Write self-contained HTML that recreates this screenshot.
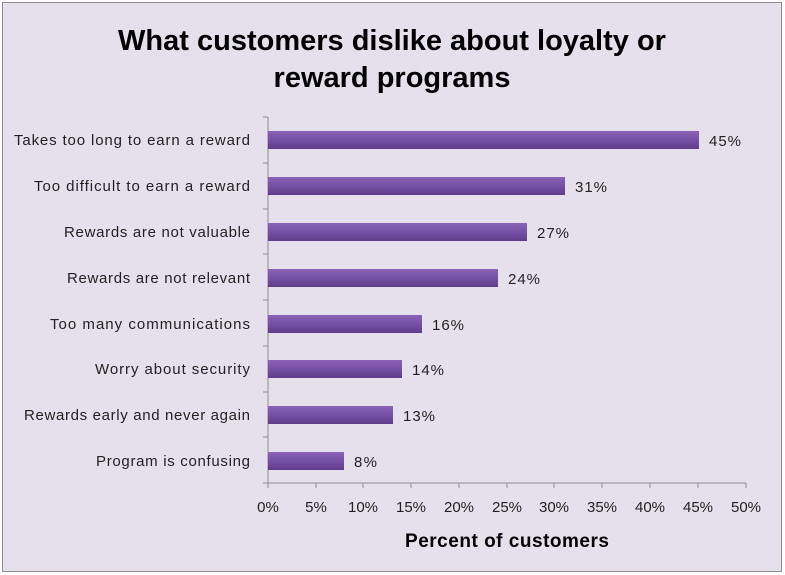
<!DOCTYPE html>
<html><head><style>
html,body{margin:0;padding:0;background:#fff;}
svg{display:block;font-family:"Liberation Sans",sans-serif;}
</style></head><body>
<svg width="785" height="575" viewBox="0 0 785 575" xmlns="http://www.w3.org/2000/svg">
<defs>
<linearGradient id="g" x1="0" y1="0" x2="0" y2="1">
<stop offset="0" stop-color="#8a62b8"/><stop offset="0.5" stop-color="#7650a4"/><stop offset="1" stop-color="#5f3c8a"/>
</linearGradient>
</defs>
<rect x="2.5" y="2.5" width="779" height="569" fill="#e6e0ec" stroke="#8c8c8c" stroke-width="1"/>
<text x="392" y="50" text-anchor="middle" font-size="29" font-weight="bold" fill="#000">What customers dislike about loyalty or</text>
<text x="392" y="87" text-anchor="middle" font-size="29" font-weight="bold" fill="#000">reward programs</text>
<g stroke="#8c8c8c" stroke-width="1">
<line x1="268" y1="117" x2="268" y2="483"/>
<line x1="268" y1="483" x2="746" y2="483"/>
<line x1="263" y1="117" x2="268" y2="117"/>
<line x1="263" y1="163" x2="268" y2="163"/>
<line x1="263" y1="209" x2="268" y2="209"/>
<line x1="263" y1="254" x2="268" y2="254"/>
<line x1="263" y1="300" x2="268" y2="300"/>
<line x1="263" y1="346" x2="268" y2="346"/>
<line x1="263" y1="392" x2="268" y2="392"/>
<line x1="263" y1="437" x2="268" y2="437"/>
<line x1="263" y1="483" x2="268" y2="483"/>
<line x1="268" y1="483" x2="268" y2="488"/>
<line x1="316" y1="483" x2="316" y2="488"/>
<line x1="363" y1="483" x2="363" y2="488"/>
<line x1="411" y1="483" x2="411" y2="488"/>
<line x1="459" y1="483" x2="459" y2="488"/>
<line x1="507" y1="483" x2="507" y2="488"/>
<line x1="554" y1="483" x2="554" y2="488"/>
<line x1="602" y1="483" x2="602" y2="488"/>
<line x1="650" y1="483" x2="650" y2="488"/>
<line x1="698" y1="483" x2="698" y2="488"/>
<line x1="746" y1="483" x2="746" y2="488"/>
</g>
<g fill="url(#g)">
<rect x="268" y="131" width="431" height="18"/>
<rect x="268" y="177" width="297" height="18"/>
<rect x="268" y="223" width="259" height="18"/>
<rect x="268" y="269" width="230" height="18"/>
<rect x="268" y="315" width="154" height="18"/>
<rect x="268" y="360" width="134" height="18"/>
<rect x="268" y="406" width="125" height="18"/>
<rect x="268" y="452" width="76" height="18"/>
</g>
<g font-size="15" fill="#222">
<text x="709" y="146" textLength="32">45%</text>
<text x="575" y="192" textLength="32">31%</text>
<text x="537" y="238" textLength="32">27%</text>
<text x="508" y="284" textLength="32">24%</text>
<text x="432" y="330" textLength="32">16%</text>
<text x="412" y="375" textLength="32">14%</text>
<text x="403" y="421" textLength="32">13%</text>
<text x="354" y="467" textLength="23">8%</text>
</g>
<g font-size="15" fill="#222" text-anchor="end">
<text x="250" y="145" textLength="236">Takes too long to earn a reward</text>
<text x="250" y="191" textLength="216">Too difficult to earn a reward</text>
<text x="250" y="237" textLength="186">Rewards are not valuable</text>
<text x="250" y="283" textLength="183">Rewards are not relevant</text>
<text x="250" y="329" textLength="200">Too many communications</text>
<text x="250" y="374" textLength="155">Worry about security</text>
<text x="250" y="420" textLength="226">Rewards early and never again</text>
<text x="250" y="466" textLength="154">Program is confusing</text>
</g>
<g font-size="15" fill="#222" text-anchor="middle">
<text x="268" y="512">0%</text>
<text x="316" y="512">5%</text>
<text x="363" y="512">10%</text>
<text x="411" y="512">15%</text>
<text x="459" y="512">20%</text>
<text x="507" y="512">25%</text>
<text x="554" y="512">30%</text>
<text x="602" y="512">35%</text>
<text x="650" y="512">40%</text>
<text x="698" y="512">45%</text>
<text x="746" y="512">50%</text>
</g>
<text x="507" y="547" text-anchor="middle" font-size="19" font-weight="bold" fill="#000" textLength="204">Percent of customers</text>
</svg>
</body></html>
